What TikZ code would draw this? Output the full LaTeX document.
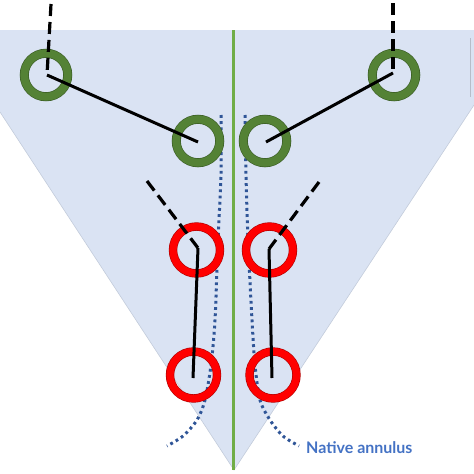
\documentclass[tikz,border=0pt]{standalone}
\usepackage{fontspec}
\setmainfont{Lato}
\begin{document}
\begin{tikzpicture}[x=1pt,y=-1pt,
  greenring/.style={circle,inner sep=0pt,minimum size=43.5pt,draw=ringgreendark,line width=0.6pt,double=ringgreen,double distance=7.8pt},
  redring/.style={circle,inner sep=0pt,minimum size=47pt,draw=ringreddark,line width=0.6pt,double=ringred,double distance=7.2pt},
  solidlink/.style={black,line width=3pt},
  dashlink/.style={black,line width=3.2pt,dash pattern=on 12pt off 6pt},
  annulus/.style={annblue,line width=3pt,dash pattern=on 2.8pt off 3.4pt},
  label/.style={text=labelblue,font=\fontsize{16}{18}\selectfont\bfseries,anchor=west,inner sep=0pt}
]
\definecolor{bgblue}{HTML}{DAE3F3}
\definecolor{bgedge}{HTML}{C3CCDB}
\definecolor{ringgreen}{HTML}{548235}
\definecolor{ringgreendark}{HTML}{3A5C25}
\definecolor{ringred}{HTML}{FF0000}
\definecolor{ringreddark}{HTML}{B00000}
\definecolor{midgreen}{HTML}{70AD47}
\definecolor{annblue}{HTML}{2F5597}
\definecolor{labelblue}{HTML}{4472C4}
\useasboundingbox (0,0) rectangle (474,474);
% background
\fill[bgblue] (0,30) -- (474,30) -- (474,105) -- (234,470) -- (0,112) -- cycle;
\draw[bgedge,line width=0.6pt] (474,105) -- (234,470) -- (0,112);
\draw[bgedge!80!gray,line width=0.8pt] (470,38) -- (470,97);
% midline
\coordinate (mtop) at (233,30);
\coordinate (mbot) at (233,470);
\draw[midgreen,line width=3pt] (mtop) -- (mbot);
% native annulus curves
\draw[annulus] plot[smooth] coordinates {(221,115) (221,175) (218,240) (215,320) (211,365) (205,400) (197,420) (183,436) (167,446)};
\draw[annulus] plot[smooth] coordinates {(245,115) (246,175) (248,240) (252,320) (255,365) (260,400) (270,420) (283,436) (299,446)};
% rings
\node[greenring] (g1) at (46,75) {};
\node[greenring] (g2) at (198,141) {};
\node[greenring] (g3) at (265,141) {};
\node[greenring] (g4) at (394,75) {};
\node[redring] (r1) at (196.5,250) {};
\node[redring] (r2) at (269.5,250) {};
\node[redring] (r3) at (193.5,375) {};
\node[redring] (r4) at (273,375) {};
% link coordinates
\coordinate (p1) at (47,75);
\coordinate (p2) at (198,142);
\coordinate (p3) at (266,142);
\coordinate (p4) at (393,73);
\coordinate (q1) at (198,248);
\coordinate (q2) at (269,249);
\coordinate (q3) at (193,378);
\coordinate (q4) at (272,378);
\coordinate (d1) at (51,4);
\coordinate (d4) at (393,3);
\coordinate (e1) at (147,181);
\coordinate (e2) at (319,182);
% dashed links
\draw[dashlink] (d1) -- (p1);
\draw[dashlink] (d4) -- (p4);
\draw[dashlink] (e1) -- (q1);
\draw[dashlink] (e2) -- (q2);
% solid links
\draw[solidlink] (p1) -- (p2);
\draw[solidlink] (p4) -- (p3);
\draw[solidlink] (q1) -- (q3);
\draw[solidlink] (q2) -- (q4);
% label
\node[label] (lab) at (306,448) {Native annulus};
\end{tikzpicture}
\end{document}
